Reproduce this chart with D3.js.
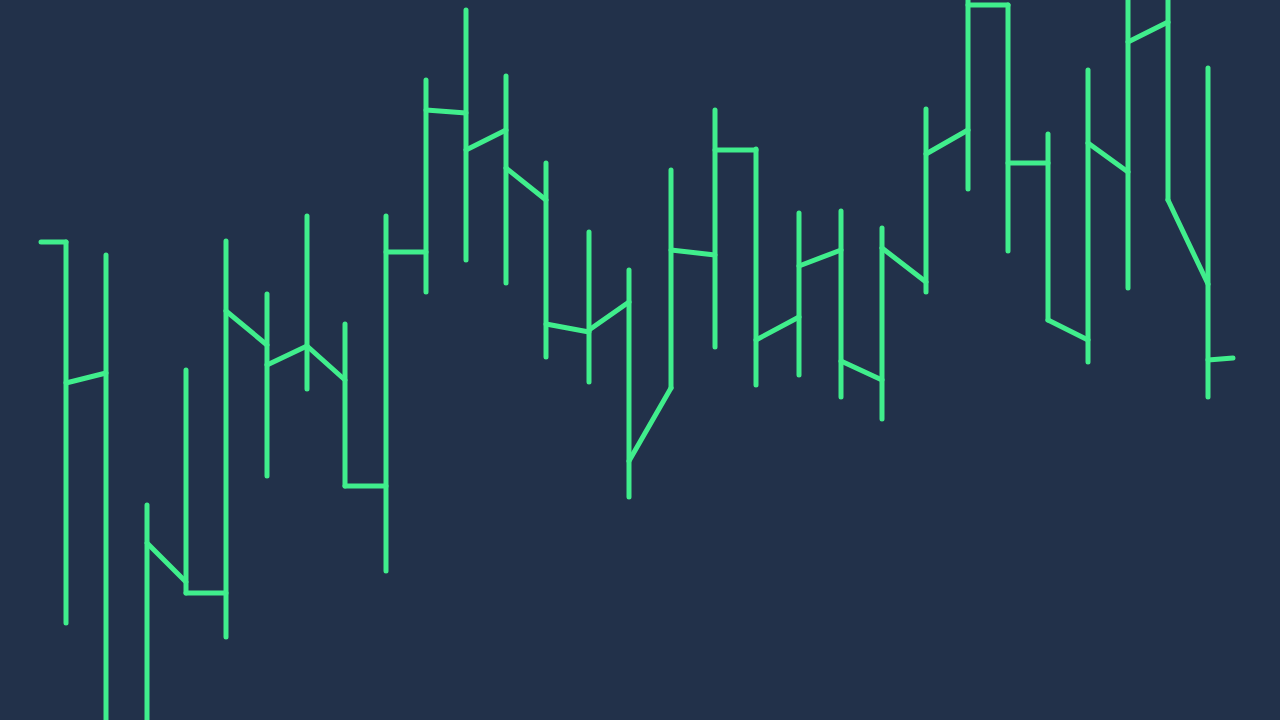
<!DOCTYPE html>
<html>
<head>
<meta charset="utf-8">
<script src="https://cdn.jsdelivr.net/npm/d3@7"></script>
<style>
  html, body { margin: 0; padding: 0; background: #22314a; overflow: hidden; }
  svg { display: block; }
</style>
</head>
<body>
<svg id="chart" width="1280" height="720"></svg>
<script>
// Session times (irregular spacing)
const sessions = [10, 20, 30.25, 40, 50, 60.25, 70.25, 79.75, 90, 100, 110, 120, 130, 140.75, 150.75,
  161.25, 172.25, 182.5, 193.25, 203.75, 214, 225, 235.5, 245.5, 255.5, 265.5, 275.5, 285.5, 295.5];
const openValues  = [69.75, 53.38, 7.5, 27.25, 25.88, 56.88, 56.75, 52.5, 39.25, 68.5, 85.88, 83.75, 75, 58.5, 62.25,
  51.5, 68.13, 81.25, 60.38, 68.75, 52.5, 64.75, 83.75, 99.38, 79.63, 57.5, 78.5, 97.25, 64.5];
const highValues  = [69.75, 68.13, 36.88, 53.75, 69.88, 63.25, 73, 59.5, 73, 90, 98.75, 90.5, 79.63, 71, 66.25,
  78.75, 86.25, 81.38, 73.38, 73.63, 71.5, 86.38, 100.25, 99.38, 83.25, 91.25, 100.63, 100.63, 91.5];
const lowValues   = [22.13, 6.88, 6.88, 25.88, 20.38, 40.5, 51.38, 39.25, 28.63, 63.5, 67.5, 64.63, 55.38, 52.25, 37.88,
  51.5, 56.63, 51.88, 53.13, 50.38, 47.63, 63.5, 76.38, 68.63, 60, 54.75, 64, 75, 50.38];
const closeValues = [52.13, 7.5, 32.13, 25.88, 61.13, 54.38, 56.75, 39.25, 68.5, 86.25, 81.25, 79, 59.5, 58.75, 42.38,
  68.75, 81.25, 57.5, 66.75, 54.88, 69, 80.75, 99.38, 79.63, 60, 82.13, 94.75, 75, 55];
const lastTickValue = 55.25;

const W = 1280, H = 720;
const lineColor = "#40ee8c";
const strokeW = 5;
const tickLen = 25;

const bars = sessions.map((t, i) => ({
  t, open: openValues[i], high: highValues[i], low: lowValues[i], close: closeValues[i]
}));

const x = d3.scaleLinear().domain([0, 320]).range([26, 1306]);
const y = d3.scaleLinear().domain([10, 100]).range([720, 0]);

const svg = d3.select("#chart");
svg.append("rect").attr("width", W).attr("height", H).attr("fill", "#22314a");

const g = svg.append("g")
  .attr("stroke", lineColor)
  .attr("stroke-width", strokeW)
  .attr("stroke-linecap", "round")
  .attr("stroke-linejoin", "round")
  .attr("fill", "none");

// high-low bars
g.selectAll("line.bar").data(bars).join("line")
  .attr("class", "bar")
  .attr("x1", d => x(d.t)).attr("x2", d => x(d.t))
  .attr("y1", d => y(d.high)).attr("y2", d => y(d.low));

// connectors close(i) -> open(i+1)
const links = d3.pairs(bars);
g.selectAll("line.link").data(links).join("line")
  .attr("class", "link")
  .attr("x1", d => x(d[0].t)).attr("y1", d => y(d[0].close))
  .attr("x2", d => x(d[1].t)).attr("y2", d => y(d[1].open));

// opening tick on first bar
const first = bars[0], last = bars[bars.length - 1];
g.append("line")
  .attr("x1", x(first.t) - tickLen).attr("x2", x(first.t))
  .attr("y1", y(first.open)).attr("y2", y(first.open));
// closing tick on last bar
g.append("line")
  .attr("x1", x(last.t)).attr("x2", x(last.t) + tickLen)
  .attr("y1", y(last.close)).attr("y2", y(lastTickValue));
</script>
</body>
</html>
